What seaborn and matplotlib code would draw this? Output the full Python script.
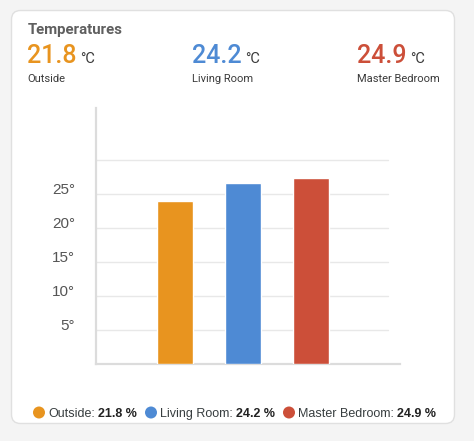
import matplotlib
matplotlib.use("Agg")
import matplotlib.pyplot as plt
import seaborn as sns
import pandas as pd
from matplotlib.patches import FancyBboxPatch, Ellipse
from matplotlib.transforms import IdentityTransform

# ---- data ----
title = "Temperatures"
categories = ["Outside", "Living Room", "Master Bedroom"]
values = [21.8, 24.2, 24.9]
unit = "°C"
colors = ["#E8941F", "#4E8AD4", "#CC4F39"]
tick_values = [5, 10, 15, 20, 25, 30]
tick_labels = ["5°", "10°", "15°", "20°", "25°", ""]
axis_scale = 1.1  # the reference axis labels read 1.1x the plotted values

sns.set_theme(style="white")
plt.rcParams["font.family"] = ["Roboto", "DejaVu Sans"]
LEG_FONT = ["Liberation Sans", "DejaVu Sans"]

W, H = 474, 441
fig = plt.figure(figsize=(W / 100, H / 100), dpi=100, facecolor="#f4f4f4")

card = FancyBboxPatch((11.5, 17.5), 443, 413,
                      boxstyle="round,pad=0,rounding_size=9",
                      transform=IdentityTransform(), fc="white",
                      ec="#e0e0e0", lw=1.0, zorder=0)
fig.add_artist(card)


def ftext(x, y, s, **kw):
    return fig.text(x / W, 1 - y / H, s, **kw)


# ---- header ----
ftext(28, 34, title, fontsize=10.8, fontweight="bold", color="#5f5f5f",
      va="baseline", ha="left")

header_x = [27, 192, 357]
num_texts = []
for x, cat, v, c in zip(header_x, categories, values, colors):
    t = ftext(x, 63, f"{v}", fontsize=18, fontweight="medium", color=c,
              va="baseline", ha="left")
    num_texts.append(t)
    ftext(x, 82, cat, fontsize=8, color="#3a3a3a", va="baseline", ha="left")

# ---- chart ----
ax = fig.add_axes([96 / W, 1 - 364 / H, (400 - 96) / W, (364 - 108) / H])
ax.set_facecolor("none")
df = pd.DataFrame({"room": categories, "temp": values})
sns.barplot(data=df, x="room", y="temp", hue="room", palette=colors,
            width=0.53, legend=False, saturation=1, ax=ax, zorder=3)
ax.set_xlim(-1.155, 3.315)
ax.set_ylim(0, 34.3)
ax.set_xticks([])
ax.set_xlabel("")
ax.set_ylabel("")
ax.set_yticks([t / axis_scale for t in tick_values])
ax.set_yticklabels(tick_labels)
for t in tick_values:
    ax.axhline(t / axis_scale, xmin=0, xmax=0.96, color="#e8e8e8", lw=1, zorder=1)
for s in ["top", "right"]:
    ax.spines[s].set_visible(False)
for s in ["left", "bottom"]:
    ax.spines[s].set_color("#dcdcdc")
    ax.spines[s].set_linewidth(1.6)
ax.tick_params(axis="y", length=0, pad=15, labelsize=11, labelcolor="#555555")
for lab in ax.get_yticklabels():
    lab.set_va("baseline")
    lab.set_fontfamily(LEG_FONT)

fig.canvas.draw()
renderer = fig.canvas.get_renderer()

# unit after the big numbers
for t in num_texts:
    bb = t.get_window_extent(renderer)
    fig.text((bb.x1 + 4) / W, t.get_position()[1], unit, fontsize=10.5,
             color="#3a3a3a", va="baseline", ha="left")

# ---- legend ----
leg_x = [39, 151, 289]
leg_y = 412.5
for x, cat, v, c in zip(leg_x, categories, values, colors):
    fig.add_artist(Ellipse((x / W, 1 - leg_y / H), 12 / W, 12 / H, fc=c, ec="none"))
    t1 = ftext(x + 9, 417, f"{cat}:", fontsize=9, color="#373d3f",
               va="baseline", ha="left", family=LEG_FONT)
    bb = t1.get_window_extent(renderer)
    fig.text((bb.x1 + 3.5) / W, 1 - 417 / H, f"{v} %", fontsize=9,
             fontweight="bold", color="#222222", va="baseline", ha="left",
             family=LEG_FONT)

fig.savefig("out.png", dpi=100, facecolor=fig.get_facecolor())
